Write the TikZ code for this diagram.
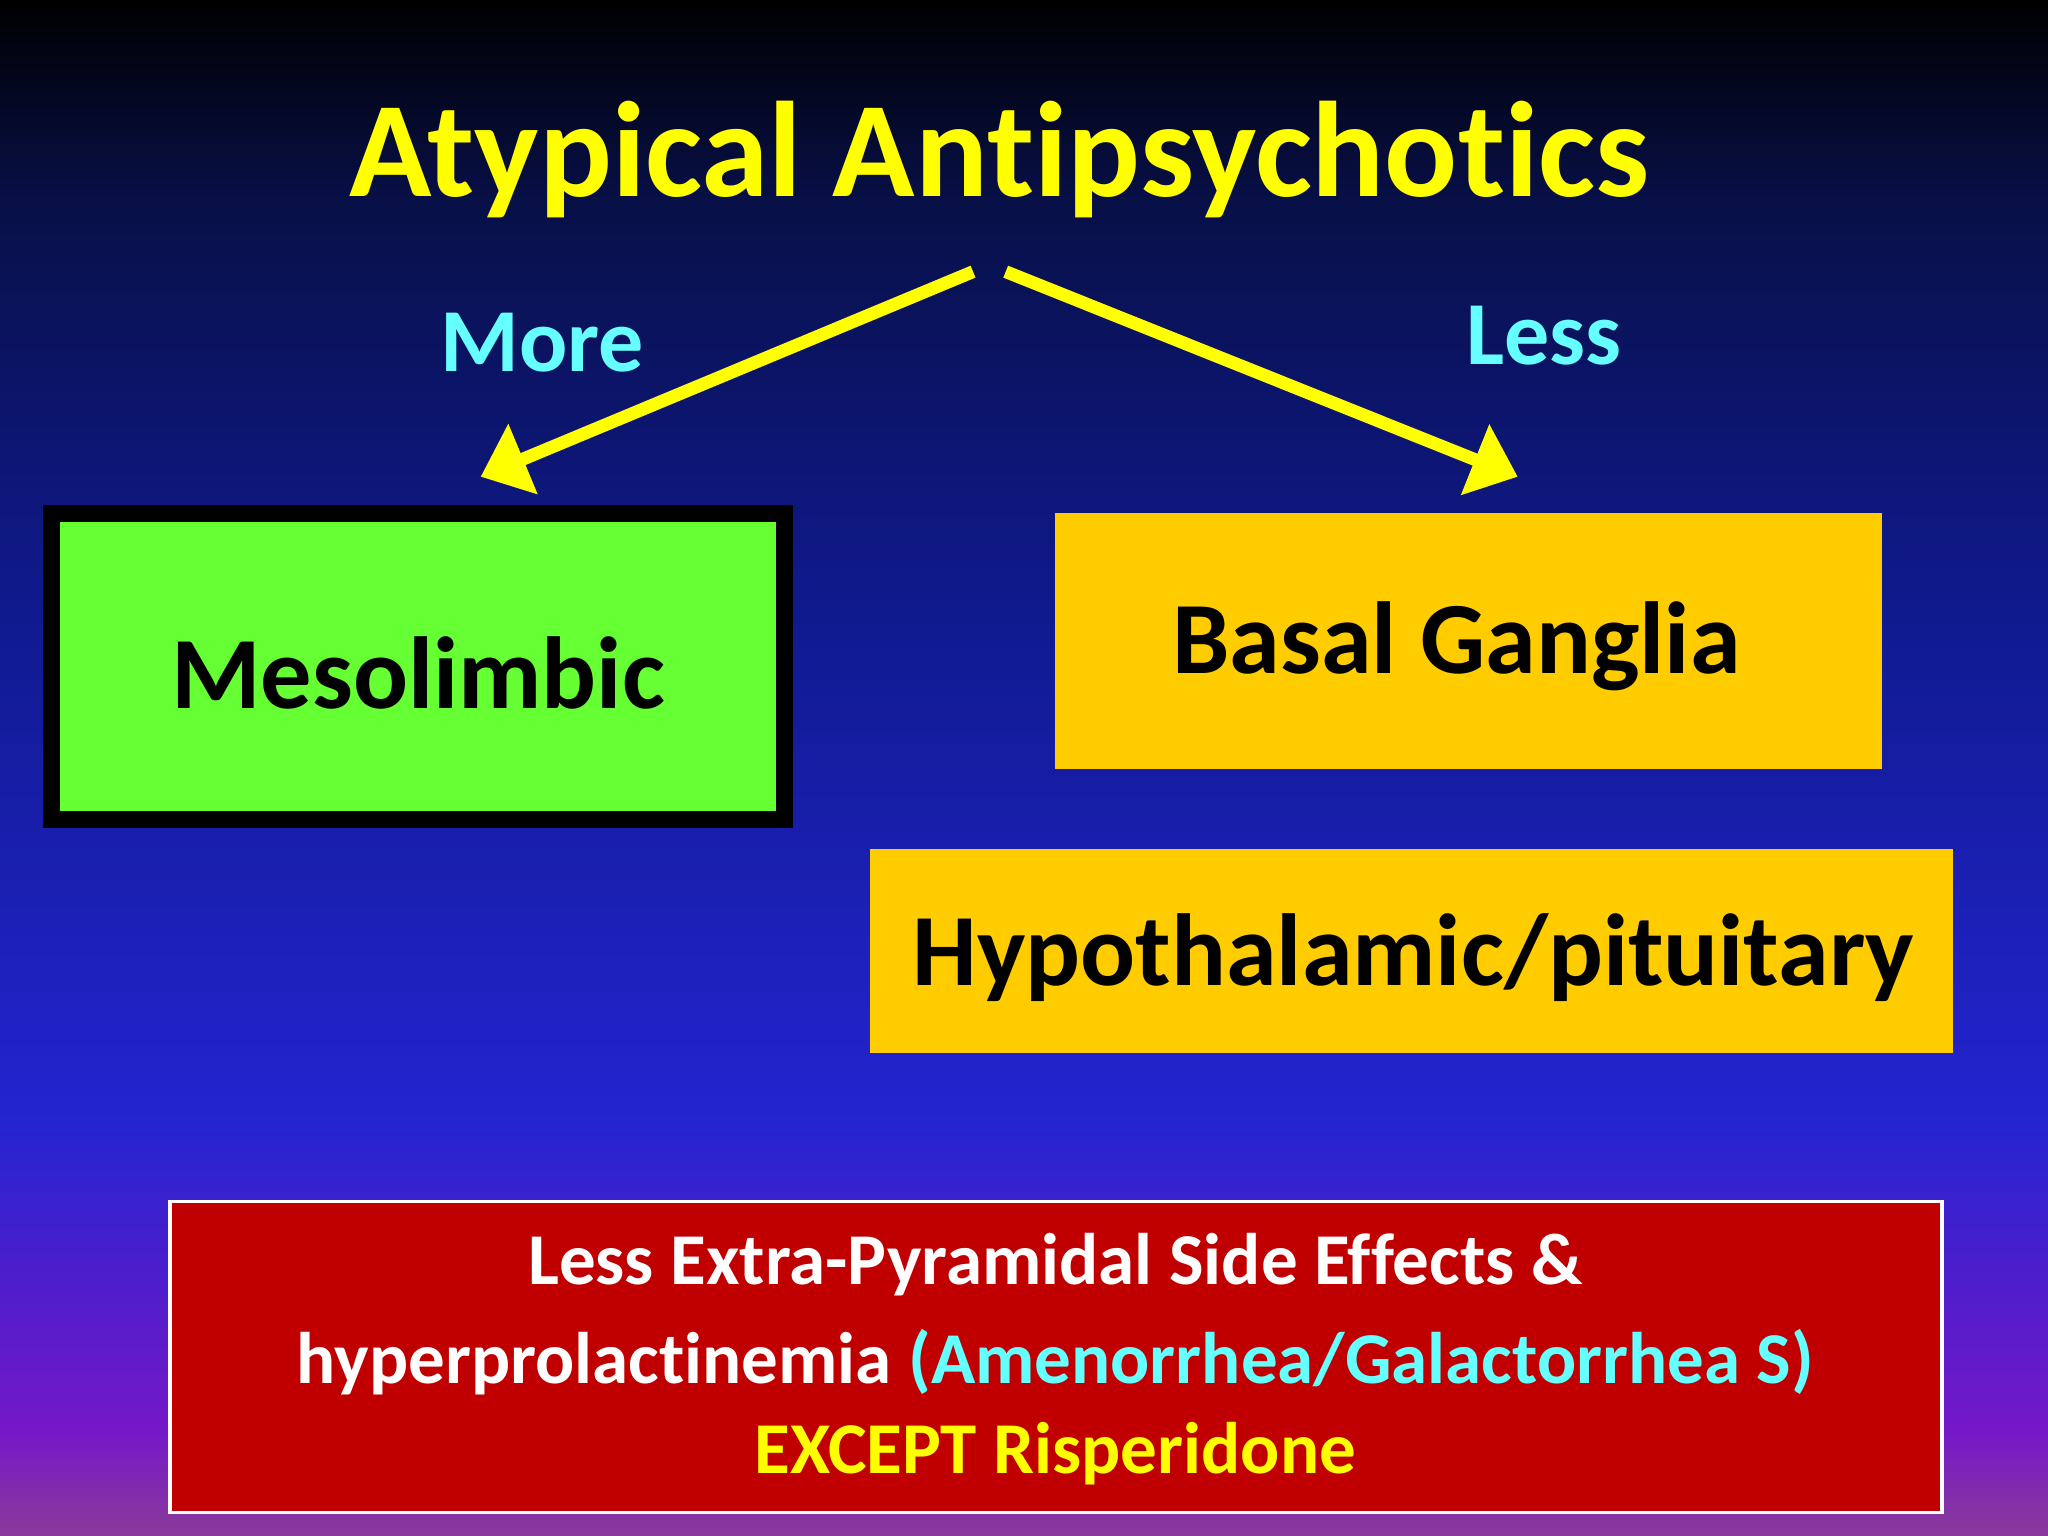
\documentclass[tikz,border=0pt]{standalone}
\usepackage{fontspec}
\setmainfont[Ligatures=NoCommon]{Carlito}
\usetikzlibrary{arrows.meta}
\definecolor{bgp2}{HTML}{8A3A9A}
\definecolor{bgp1}{HTML}{7518C8}
\definecolor{bgb2}{HTML}{2424D0}
\definecolor{bgb1}{HTML}{101A90}
\definecolor{bgd}{HTML}{081048}
\definecolor{ylw}{HTML}{FFFF00}
\definecolor{cyn}{HTML}{66FFFF}
\definecolor{grn}{HTML}{66FF33}
\definecolor{org}{HTML}{FFCC00}
\definecolor{rd}{HTML}{C00000}
\pgfdeclareverticalshading{bgsh}{100bp}{color(0bp)=(bgp2); color(25bp)=(bgp2); color(28.4bp)=(bgp1); color(38.6bp)=(bgb2); color(54.8bp)=(bgb1); color(68.4bp)=(bgd); color(75bp)=(black); color(100bp)=(black)}
\tikzset{
  arr/.style={draw=ylw,line width=2.8pt,-{Triangle[length=10pt,width=16pt]}},
  lbl/.style={text=cyn,font=\bfseries\fontsize{19.6}{24}\selectfont},
  boxtxt/.style={text=black,font=\bfseries\fontsize{22.3}{26}\selectfont},
  redtxt/.style={font=\bfseries\fontsize{15.9}{19}\selectfont}
}
\begin{document}
\begin{tikzpicture}[x=0.01cm,y=-0.01cm]
\useasboundingbox (0,0) rectangle (1568,1176);
\shade[shading=bgsh] (0,0) rectangle (1568,1176);
\node[text=ylw,font=\bfseries\fontsize{29.6}{34}\selectfont] (title) at (765,122) {Atypical Antipsychotics};
\coordinate (l0) at (745,208); \coordinate (l1) at (368,365);
\coordinate (r0) at (770,208); \coordinate (r1) at (1162,365);
\draw[arr] (l0) -- (l1);
\draw[arr] (r0) -- (r1);
\node[lbl] (more) at (415,262) {More};
\node[lbl] (less) at (1182,257) {Less};
\fill[black] (33,387) rectangle (607,634);
\fill[grn] (46,400) rectangle (594,621);
\node[boxtxt] (meso) at (320,515) {Mesolimbic};
\fill[org] (808,393) rectangle (1441,589);
\node[boxtxt] (bg) at (1115,495) {Basal Ganglia};
\fill[org] (666,650) rectangle (1495,806);
\node[boxtxt] (hp) at (1082,733) {Hypothalamic/pituitary};
\draw[fill=rd,draw=white,line width=0.8pt] (130,920) rectangle (1487,1158);
\node[redtxt,text=white] (t1) at (808,968) {Less Extra-Pyramidal Side Effects \&};
\node[redtxt] (t2) at (808,1043) {\textcolor{white}{hyperprolactinemia} \textcolor{cyn}{(Amenorrhea/Galactorrhea S)}};
\node[redtxt,text=ylw] (t3) at (808,1113) {EXCEPT Risperidone};
\end{tikzpicture}
\end{document}
